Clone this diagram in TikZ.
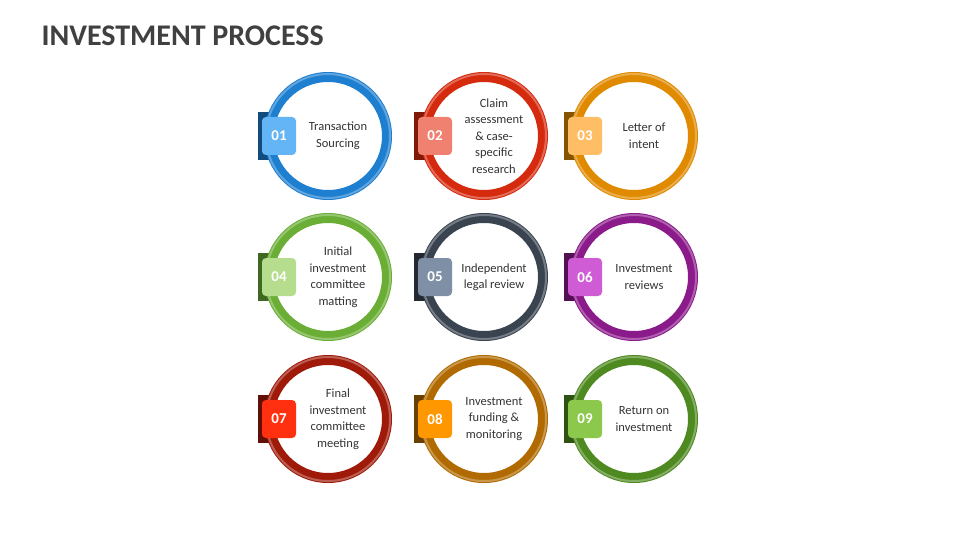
\documentclass[tikz,border=0pt]{standalone}
\usepackage{fontspec}
\setmainfont{Carlito}
\begin{document}
\begin{tikzpicture}[x=1pt,y=-1pt,
 ring/.style={line width=10pt},
 badge/.style={minimum width=34pt,minimum height=38pt,inner sep=0,text=white,font=\bfseries\fontsize{15}{15}\selectfont,rounded corners=4pt},
 lbl/.style={align=center,text=black!80,font=\fontsize{12.5}{16.5}\selectfont}]
\useasboundingbox (0,0) rectangle (960,540);
\fill[white] (0,0) rectangle (960,540);
\node[anchor=west,font=\bfseries\fontsize{30}{30}\selectfont,text=black!75] (title) at (38,36) {INVESTMENT PROCESS};
\def\item#1#2#3#4#5#6{%
 \fill[#3!60!black] (#1-70,#2-24) rectangle (#1-58,#2+24);
 \draw[ring,#3] (#1,#2) circle (59);
 \draw[line width=2pt,#3!70!white] (#1,#2) circle (62);
 \node[badge,fill=#4] (b#5) at (#1-49,#2) {#5};
 \node[lbl] (t#5) at (#1+10,#2) {#6};}
\definecolor{r1}{HTML}{1E7FD0}\definecolor{b1}{HTML}{64B5F6}
\definecolor{r2}{HTML}{D52A0E}\definecolor{b2}{HTML}{F08070}
\definecolor{r3}{HTML}{E08A00}\definecolor{b3}{HTML}{FFBE66}
\definecolor{r4}{HTML}{6AAE35}\definecolor{b4}{HTML}{B5DD8D}
\definecolor{r5}{HTML}{3A4450}\definecolor{b5}{HTML}{7F8FA6}
\definecolor{r6}{HTML}{8B1A8B}\definecolor{b6}{HTML}{D05CD5}
\definecolor{r7}{HTML}{A01A0A}\definecolor{b7}{HTML}{FF3010}
\definecolor{r8}{HTML}{B06A00}\definecolor{b8}{HTML}{FF9800}
\definecolor{r9}{HTML}{4E8A20}\definecolor{b9}{HTML}{8CC84B}
\item{328}{136}{r1}{b1}{01}{Transaction\\Sourcing}
\item{484}{136}{r2}{b2}{02}{Claim\\assessment\\\& case-\\specific\\research}
\item{634}{136}{r3}{b3}{03}{Letter of\\intent}
\item{328}{277}{r4}{b4}{04}{Initial\\investment\\committee\\matting}
\item{484}{277}{r5}{b5}{05}{Independent\\legal review}
\item{634}{277}{r6}{b6}{06}{Investment\\reviews}
\item{328}{419}{r7}{b7}{07}{Final\\investment\\committee\\meeting}
\item{484}{419}{r8}{b8}{08}{Investment\\funding \&\\monitoring}
\item{634}{419}{r9}{b9}{09}{Return on\\investment}
\end{tikzpicture}
\end{document}
